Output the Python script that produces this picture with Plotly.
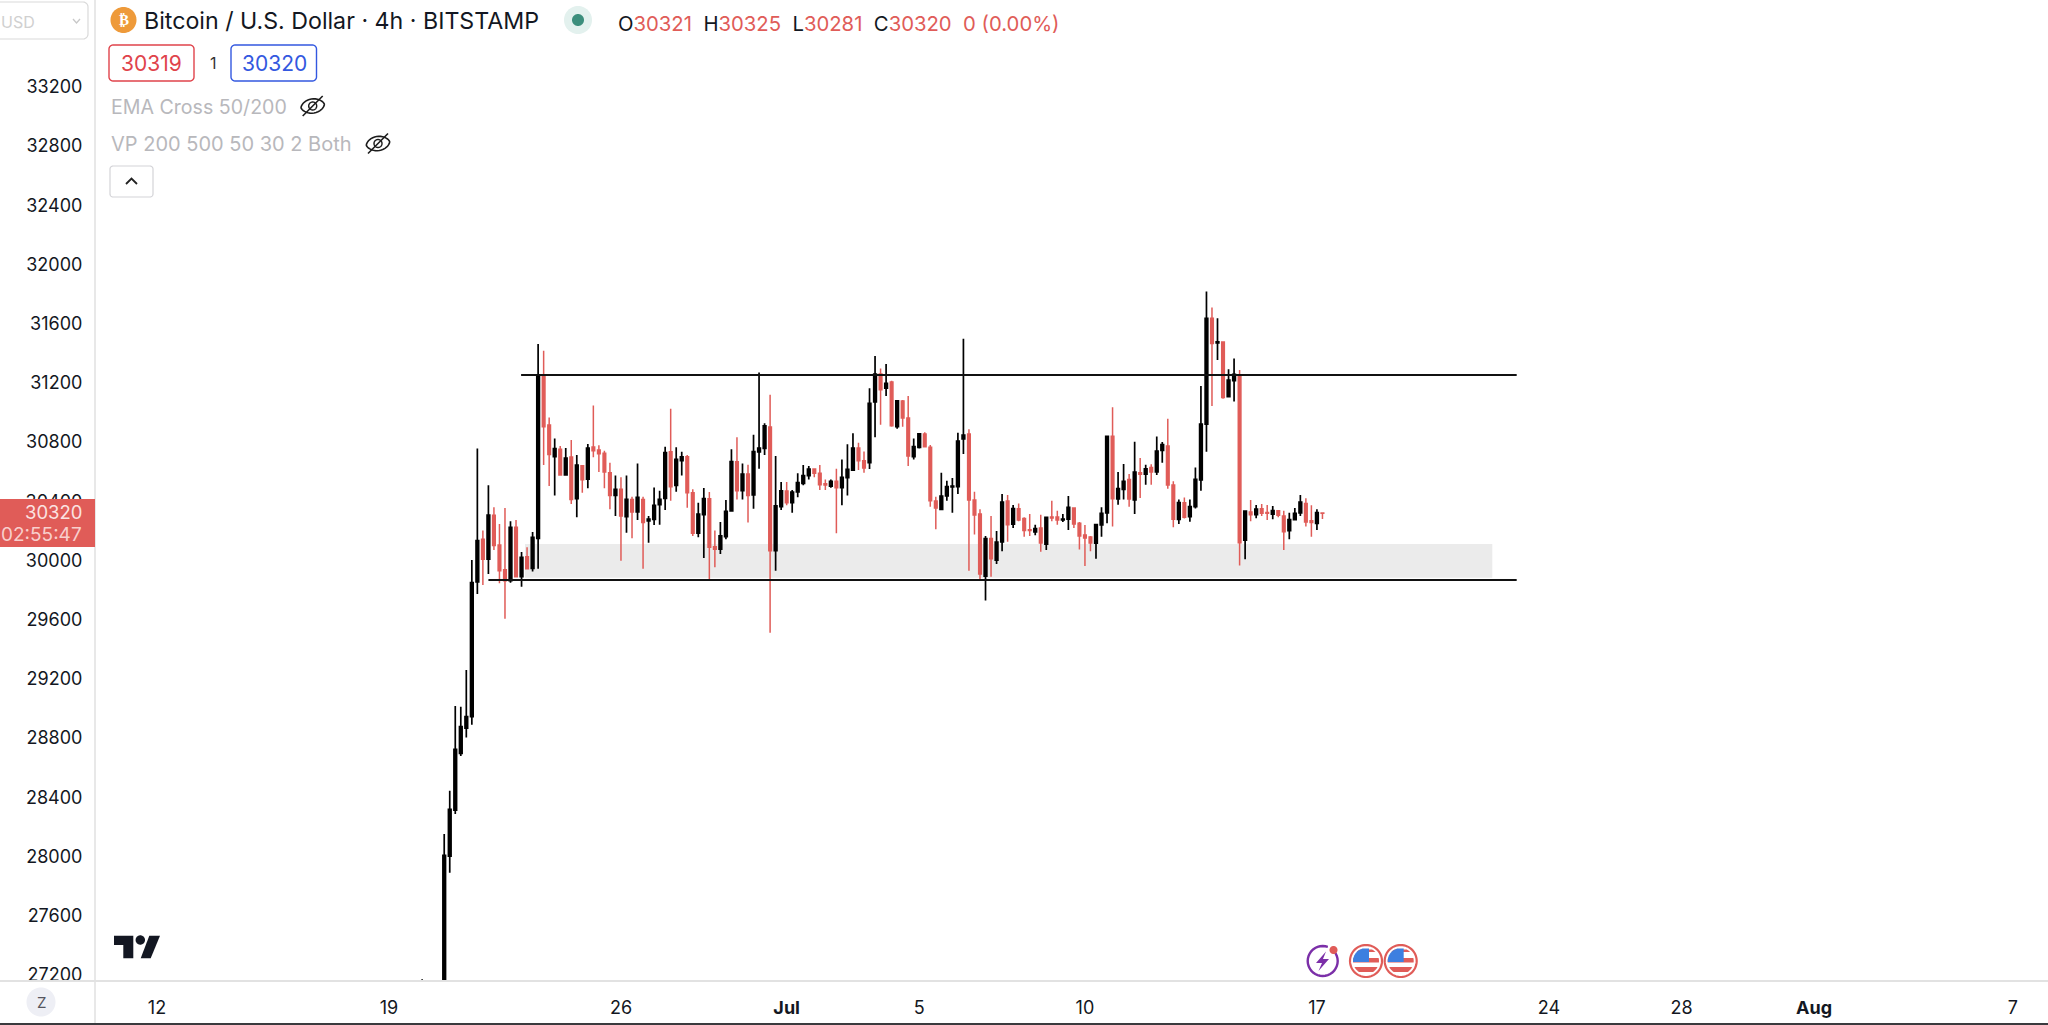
import math
import pandas as pd
import plotly.graph_objects as go

# ---- data -------------------------------------------------------------
start_time = "2023-06-20 00:00"
bar_freq = "4h"

opens = [
 26950,27050,27080,27020,27100,28003,
 28314,28697,28868,28945,29855,30143,
 30010,30305,30105,29938,29864,30224,
 29891,30026,29947,30150,31253,30915,
 30701,30751,30578,30699,30418,30640,
 30550,30767,30746,30724,30593,30440,
 30481,30296,30413,30328,30413,30267,
 30278,30377,30420,30735,30508,30674,
 30701,30458,30184,30310,30418,30093,
 30076,30161,30336,30668,30472,30584,
 30444,30733,30758,30902,30066,30364,
 30470,30391,30463,30521,30573,30618,
 30589,30519,30503,30535,30492,30560,
 30611,30760,30674,30661,31071,31260,
 31165,31206,30904,31078,30963,30702,
 30765,30855,30765,30402,30346,30436,
 30497,30499,30821,30855,30409,30314,
 29895,30148,30003,30125,30402,30246,
 30350,30283,30208,30193,30220,30111,
 30294,30294,30274,30280,30355,30251,
 30172,30159,30118,30240,30321,30839,
 30416,30480,30548,30409,30593,30584,
 30629,30598,30744,30774,30510,30278,
 30391,30296,30364,30544,30922,31636,
 31471,31476,31107,31215,31253,30138,
 30327,30310,30350,30325,30314,30337,
 30300,30201,30276,30321,30386,30269,
 30251,30321,
]
highs = [
 27170,27120,27130,27140,28152,28445,
 29017,29012,29260,30003,30756,30202,
 30508,30359,30247,30355,30265,30274,
 30057,30089,30193,31463,31418,30967,
 30825,30774,30760,30814,30713,30645,
 30787,31048,30778,30742,30661,30575,
 30562,30575,30431,30656,30431,30301,
 30494,30472,30769,31026,30765,30735,
 30713,30481,30391,30490,30463,30202,
 30260,30409,30751,30832,30656,30647,
 30850,31271,30927,31120,30706,30530,
 30530,30476,30589,30645,30638,30623,
 30645,30548,30548,30620,30683,30785,
 30859,30796,30737,31163,31382,31298,
 31328,31215,31084,31084,31111,30825,
 30855,30866,30780,30431,30593,30539,
 30557,30864,31499,30886,30465,30346,
 30166,30301,30199,30449,30443,30375,
 30386,30292,30314,30242,30310,30292,
 30404,30337,30314,30436,30360,30260,
 30240,30166,30245,30359,30845,31035,
 30598,30652,30584,30803,30692,30647,
 30650,30837,30800,30958,30535,30413,
 30425,30413,30629,31179,31818,31710,
 31636,31481,31292,31364,31287,30334,
 30409,30375,30382,30375,30368,30340,
 30337,30323,30355,30443,30420,30373,
 30346,30325,
]
lows = [
 26900,26980,26990,26980,27080,27891,
 28287,28679,28805,28891,29774,29834,
 29909,30071,29846,29607,29850,29886,
 29823,29940,29925,29945,30645,30503,
 30440,30573,30575,30382,30292,30458,
 30488,30697,30598,30488,30346,30301,
 29999,30188,30150,30274,29945,30120,
 30240,30242,30341,30404,30465,30575,
 30357,30166,30157,30017,29873,29954,
 30044,30143,30336,30413,30413,30256,
 30350,30620,30713,29512,29931,30341,
 30373,30323,30427,30508,30548,30562,
 30476,30476,30492,30184,30373,30440,
 30611,30611,30593,30618,30832,30918,
 31111,30904,30891,30904,30638,30683,
 30756,30769,30364,30211,30341,30404,
 30323,30449,30719,29931,30175,29873,
 29729,29891,29976,30062,30127,30220,
 30265,30161,30166,30170,30060,30071,
 30265,30242,30260,30206,30220,30075,
 29963,30062,30012,30161,30251,30229,
 30377,30413,30364,30314,30422,30512,
 30512,30578,30661,30485,30224,30246,
 30283,30262,30352,30472,30735,31044,
 31355,31093,31102,31075,29967,30008,
 30265,30285,30301,30274,30278,30292,
 30071,30143,30276,30301,30229,30161,
 30206,30281,
]
closes = [
 27050,27080,27020,27100,28008,28319,
 28724,28877,28945,29850,30134,30008,
 30307,30102,29931,29864,30224,29891,
 30021,29945,30157,31253,30904,30717,
 30756,30578,30692,30413,30645,30546,
 30760,30742,30722,30598,30440,30481,
 30301,30413,30328,30427,30256,30280,
 30373,30413,30729,30499,30683,30701,
 30458,30184,30314,30418,30089,30076,
 30166,30332,30668,30472,30584,30440,
 30735,30760,30909,30066,30370,30470,
 30391,30463,30526,30573,30618,30589,
 30512,30510,30535,30492,30562,30616,
 30760,30674,30625,31062,31260,31154,
 31197,30911,31078,30963,30706,30769,
 30855,30769,30404,30355,30436,30499,
 30503,30807,30848,30409,30307,29909,
 30148,30012,30125,30395,30242,30350,
 30274,30202,30202,30215,30118,30292,
 30287,30274,30280,30359,30246,30166,
 30152,30118,30242,30319,30839,30418,
 30485,30535,30416,30598,30582,30620,
 30598,30740,30783,30510,30278,30391,
 30292,30364,30548,30922,31636,31467,
 31478,31102,31219,31258,30120,30334,
 30310,30348,30319,30319,30337,30305,
 30195,30276,30319,30395,30260,30256,
 30323,30320,
]

y_ticks = [27200,27600,28000,28400,28800,29200,29600,30000,30400,30800,31200,31600,32000,32400,32800,33200]
x_tick_dates = ["2023-06-12","2023-06-19","2023-06-26","2023-07-01","2023-07-05","2023-07-10",
                "2023-07-17","2023-07-24","2023-07-28","2023-08-01","2023-08-07"]
x_tick_labels = ["12","19","26","<b>Jul</b>","5","10","17","24","28","<b>Aug</b>","7"]

resistance_price = 31253
support_price = 29868
zone_top = 30111
zone_bottom = 29884
resistance_span = ["2023-06-22 23:40", "2023-07-23 00:40"]
support_span = ["2023-06-22 00:00", "2023-07-23 00:40"]
zone_span = ["2023-06-23 02:30", "2023-07-22 07:00"]

# ---- page geometry ----------------------------------------------------
W, H = 2048, 1025
L, BOT = 95, 981
RED = "#E05C58"
FONT = "Inter"

def px(x): return (x - L) / (W - L)
def py(y): return 1 - y / BOT

shapes, notes = [], []

def txt(x, y, s, size, color="#131722", anchor="left", family=FONT):
    notes.append(dict(text=s, x=px(x), y=py(y), xref="paper", yref="paper", showarrow=False,
                      xanchor=anchor, yanchor="middle", align=anchor, borderpad=0,
                      font=dict(family=family, size=size, color=color)))

def path(d, fill=None, line=None, lw=1, layer="above"):
    shapes.append(dict(type="path", path=d, xref="paper", yref="paper", layer=layer,
                       fillcolor=fill if fill else "rgba(0,0,0,0)",
                       line=dict(color=line if line else "rgba(0,0,0,0)", width=lw if line else 0)))

def poly(pts, **k):
    path("M" + " L".join(f"{px(a):.6f},{py(b):.6f}" for a, b in pts) + " Z", **k)

def polyline(pts, **k):
    path("M" + " L".join(f"{px(a):.6f},{py(b):.6f}" for a, b in pts), **k)

def circle(cx, cy, r, **k):
    pts = [(cx + r * math.cos(t * math.pi / 30), cy + r * math.sin(t * math.pi / 30)) for t in range(60)]
    poly(pts, **k)

def rrect(x0, y0, x1, y1, r, **k):
    pts = []
    for cx, cy, a0 in [(x1 - r, y0 + r, -90), (x1 - r, y1 - r, 0), (x0 + r, y1 - r, 90), (x0 + r, y0 + r, 180)]:
        for i in range(7):
            a = math.radians(a0 + i * 15)
            pts.append((cx + r * math.cos(a), cy + r * math.sin(a)))
    poly(pts, **k)

def disc_clip(cx, cy, r, x0, y0, x1, y1, **k):
    """rectangle clipped by a disc, used for the flag stripes"""
    pts = []
    for y in [y0 + (y1 - y0) * i / 6 for i in range(7)]:
        h = math.sqrt(max(r * r - (y - cy) ** 2, 0))
        pts.append((min(x1, cx + h), y))
    for y in [y1 - (y1 - y0) * i / 6 for i in range(7)]:
        h = math.sqrt(max(r * r - (y - cy) ** 2, 0))
        pts.append((max(x0, cx - h), y))
    poly(pts, **k)

def eye(cx, cy):
    a, b = 12, 7
    pts = [(cx + a * math.cos(t * math.pi / 18), cy + b * math.sin(t * math.pi / 18) * abs(math.sin(t * math.pi / 18)) ** 0.3)
           for t in range(36)]
    rot = [(cx + (p - cx) * 0.97 + (q - cy) * 0.2, cy + (q - cy) - (p - cx) * 0.16) for p, q in pts]
    poly(rot, line="#1c1c1c", lw=1.6)
    circle(cx, cy, 4, line="#1c1c1c", lw=1.4)
    polyline([(cx - 10, cy + 10), (cx + 10, cy - 10)], line="#1c1c1c", lw=1.6)

# price-level drawings (data coordinates)
shapes.append(dict(type="rect", xref="x", yref="y", layer="below", x0=zone_span[0], x1=zone_span[1],
                   y0=zone_bottom, y1=zone_top, fillcolor="#EBEBEB", line=dict(width=0)))
shapes.append(dict(type="line", xref="x", yref="y", layer="above", x0=resistance_span[0], x1=resistance_span[1],
                   y0=resistance_price, y1=resistance_price, line=dict(color="#111111", width=2)))
shapes.append(dict(type="line", xref="x", yref="y", layer="above", x0=support_span[0], x1=support_span[1],
                   y0=support_price, y1=support_price, line=dict(color="#111111", width=2)))

# frame
polyline([(L, 0), (L, 1023)], line="#E0E0E0", lw=1.5)
polyline([(0, BOT), (W, BOT)], line="#E2E2E2", lw=2)
poly([(0, 1023), (W, 1023), (W, 1025), (0, 1025)], fill="#3A3A3E")

# current-price tag
poly([(0, 499), (L, 499), (L, 547), (0, 547)], fill=RED)
txt(83, 512, "30320", 18.5, "#FBE3E1", "right")
txt(83, 534, "02:55:47", 19, "#F8CFCC", "right")

# header
rrect(-12, 2, 88, 39, 5, line="#DADADA", lw=1.2, fill="#FFFFFF")
txt(0, 22, "USD", 16, "#D0D0D0")
polyline([(73, 19), (76.5, 23), (80, 19)], line="#C8C8C8", lw=1.3)
circle(123.5, 20, 13, fill="#EE9A3A")
txt(123.5, 20, "<b>₿</b>", 15, "#FFFFFF", "center", "DejaVu Sans")
txt(143, 21, "Bitcoin / U.S. Dollar · 4h · BITSTAMP", 23.2, "#131722")
circle(578, 20, 14, fill="#E3F1EE")
circle(578, 20, 6, fill="#3C8E7C")
r = f'<span style="color:{RED}">'
txt(617, 23.5, f'O{r}30321</span>  H{r}30325</span>  L{r}30281</span>  C{r}30320</span>  {r}0 (0.00%)</span>', 20.3, "#131722")

rrect(109, 45, 194, 81, 4, line="#E0434B", lw=1.4)
txt(151.5, 63, "30319", 21, "#E0434B", "center")
txt(213, 63, "1", 16, "#333333", "center")
rrect(231, 45, 316.5, 81, 4, line="#3358E0", lw=1.4)
txt(274, 63, "30320", 21, "#3358E0", "center")

txt(110, 107, "EMA Cross 50/200", 19.6, "#B8B8BC")
eye(312.7, 106)
txt(110, 144, "VP 200 500 50 30 2 Both", 20, "#B8B8BC")
eye(378, 143.5)

rrect(110, 166, 153, 197, 3, line="#D4D4D8", lw=1.2)
polyline([(126, 184), (131.5, 178.5), (137, 184)], line="#222222", lw=1.8)

# logo
poly([(114, 935.7), (133.3, 935.7), (133.3, 958.3), (123.3, 958.3), (123.3, 945), (114, 945)], fill="#131722")
circle(140.3, 940, 4.7, fill="#131722")
poly([(149.3, 935.7), (160, 935.7), (150.7, 958.3), (140.7, 958.3)], fill="#131722")

# event icons
pts = [(1322.7 + 15 * math.cos(math.radians(a)), 961 + 15 * math.sin(math.radians(a))) for a in range(-40, 300, 10)]
polyline(pts, line="#7B2FA8", lw=2.4)
poly([(1326, 951.5), (1316, 963), (1322, 963), (1318.5, 971), (1329, 959), (1323, 959)], fill="#7B2FA8")
circle(1333.5, 950, 4, fill=RED)
for cx in (1366, 1400.7):
    cy = 961
    circle(cx, cy, 16, fill="#FFFFFF", line=RED, lw=2.2)
    disc_clip(cx, cy, 13, cx - 13, cy - 11.5, cx + 13, cy - 9, fill=RED)
    disc_clip(cx, cy, 13, cx - 13, cy - 3, cx + 13, cy + 1.5, fill=RED)
    disc_clip(cx, cy, 13, cx - 13, cy + 6, cx + 13, cy + 11, fill=RED)
    disc_clip(cx, cy, 13, cx - 13, cy - 12.5, cx + 3, cy + 1, fill="#3D7FE0")

# bottom-left badge
circle(41, 1002, 14.5, fill="#EEEFF5")
txt(41, 1002, "Z", 15, "#55565E", "center")

# ---- figure -----------------------------------------------------------
times = pd.date_range(start_time, periods=len(opens), freq=bar_freq)

fig = go.Figure(go.Candlestick(
    x=times, open=opens, high=highs, low=lows, close=closes,
    increasing=dict(line=dict(color="#000000", width=1.7), fillcolor="#000000"),
    decreasing=dict(line=dict(color=RED, width=1.5), fillcolor=RED),
    whiskerwidth=0, hoverinfo="skip", showlegend=False,
))

fig.update_layout(
    width=W, height=H,
    margin=dict(l=L, r=0, t=0, b=H - BOT, pad=0, autoexpand=False),
    plot_bgcolor="#FFFFFF", paper_bgcolor="#FFFFFF",
    boxgap=0.32,
    shapes=shapes, annotations=notes,
    font=dict(family=FONT, color="#131722", size=18),
    showlegend=False,
    xaxis=dict(type="date", range=["2023-06-10 03:06", "2023-08-08 01:26"],
               tickmode="array", tickvals=x_tick_dates, ticktext=x_tick_labels, tickangle=0,
               showgrid=False, zeroline=False, showline=False, rangeslider=dict(visible=False),
               ticks="outside", ticklen=10, tickcolor="rgba(0,0,0,0)",
               tickfont=dict(family=FONT, size=18, color="#131722")),
    yaxis=dict(range=[27159, 33787], tickmode="array", tickvals=y_ticks,
               ticktext=[str(v) for v in y_ticks],
               showgrid=False, zeroline=False, showline=False,
               ticks="outside", ticklen=8, tickcolor="rgba(0,0,0,0)",
               tickfont=dict(family=FONT, size=18, color="#131722")),
)

fig.write_html("out.html", config=dict(displayModeBar=False),
               post_script="document.body.style.margin='0';document.body.style.overflow='hidden';")
